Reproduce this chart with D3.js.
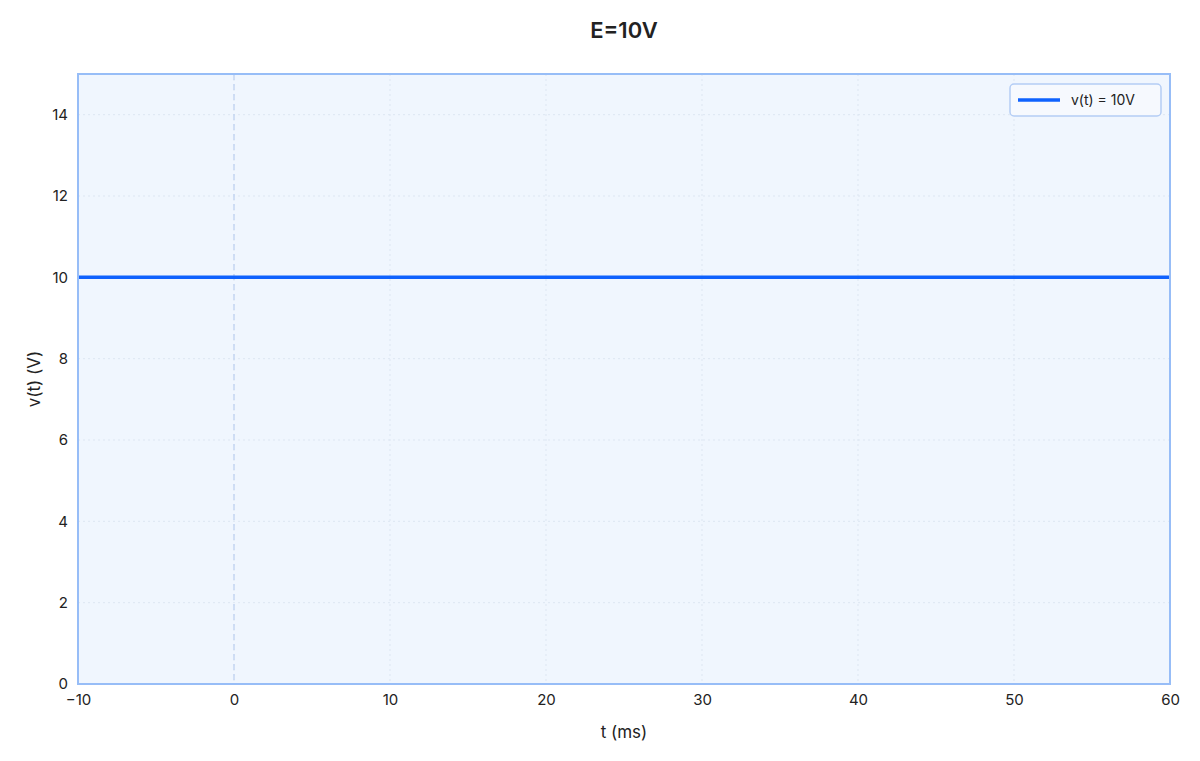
<!DOCTYPE html>
<html><head><meta charset="utf-8">
<script src="https://cdn.jsdelivr.net/npm/d3@7"></script>
<style>body{margin:0;background:#fff;font-family:Inter,"Noto Sans",sans-serif;}</style>
</head><body><svg id="c" width="1200" height="761"></svg>
<script>
const tValues = [-10, 60];
const vValues = [10, 10];
const xTicks = [-10, 0, 10, 20, 30, 40, 50, 60];
const yTicks = [0, 2, 4, 6, 8, 10, 12, 14];
const title = 'E=10V';
const seriesLabel = 'v(t) = 10V';

const svg = d3.select('#c');
const m = {l: 78, r: 1170, t: 74, b: 684};
const x = d3.scaleLinear().domain([-10, 60]).range([m.l, m.r]);
const y = d3.scaleLinear().domain([0, 15]).range([m.b, m.t]);

svg.append('rect').attr('x', m.l).attr('y', m.t).attr('width', m.r - m.l).attr('height', m.b - m.t)
  .attr('fill', '#f0f6fe');

// grid
svg.append('g').selectAll('line').data(xTicks.slice(1, -1)).join('line')
  .attr('x1', d => x(d)).attr('x2', d => x(d)).attr('y1', m.t).attr('y2', m.b)
  .attr('stroke', '#dde6f2').attr('stroke-dasharray', '2,3');
svg.append('g').selectAll('line').data(yTicks.slice(1)).join('line')
  .attr('y1', d => y(d)).attr('y2', d => y(d)).attr('x1', m.l).attr('x2', m.r)
  .attr('stroke', '#dde6f2').attr('stroke-dasharray', '2,3');

// t=0 marker
svg.append('line').attr('x1', x(0)).attr('x2', x(0)).attr('y1', m.t).attr('y2', m.b)
  .attr('stroke', '#c5d6f2').attr('stroke-width', 1.5).attr('stroke-dasharray', '6,4');

// axes
const xa = svg.append('g').attr('transform', `translate(0,${m.b})`)
  .call(d3.axisBottom(x).tickValues(xTicks).tickSize(0).tickPadding(10));
const ya = svg.append('g').attr('transform', `translate(${m.l},0)`)
  .call(d3.axisLeft(y).tickValues(yTicks).tickSize(0).tickPadding(10));
[xa, ya].forEach(a => {
  a.select('.domain').remove();
  a.selectAll('text').attr('font-size', 15).attr('fill', '#222').attr('font-family', 'Inter,sans-serif');
});

// line
svg.append('path').datum(tValues.map((t, i) => [t, vValues[i]]))
  .attr('d', d3.line().x(d => x(d[0])).y(d => y(d[1])))
  .attr('stroke', '#0f62fe').attr('stroke-width', 3.5).attr('fill', 'none');

svg.append('rect').attr('x', m.l).attr('y', m.t).attr('width', m.r - m.l).attr('height', m.b - m.t)
  .attr('fill', 'none').attr('stroke', '#97bdf7').attr('stroke-width', 2);

// labels
svg.append('text').attr('x', 624).attr('y', 38).attr('text-anchor', 'middle')
  .attr('font-size', 22).attr('font-weight', 600).attr('fill', '#222').text(title);
svg.append('text').attr('x', x(25)).attr('y', 738).attr('text-anchor', 'middle')
  .attr('font-size', 17).attr('fill', '#222').text('t (ms)');
svg.append('text').attr('transform', `translate(40,${(m.t + m.b) / 2}) rotate(-90)`)
  .attr('text-anchor', 'middle').attr('font-size', 17).attr('fill', '#222').text('v(t) (V)');

// legend
const lg = svg.append('g').attr('transform', 'translate(1010,84)');
lg.append('rect').attr('width', 151).attr('height', 32).attr('rx', 4)
  .attr('fill', '#f6f9fe').attr('stroke', '#b4cdf5').attr('stroke-width', 1.5);
lg.append('line').attr('x1', 8).attr('x2', 50).attr('y1', 16).attr('y2', 16)
  .attr('stroke', '#0f62fe').attr('stroke-width', 3.5);
lg.append('text').attr('x', 61).attr('y', 21).attr('font-size', 14).attr('fill', '#222').text(seriesLabel);
</script></body></html>
